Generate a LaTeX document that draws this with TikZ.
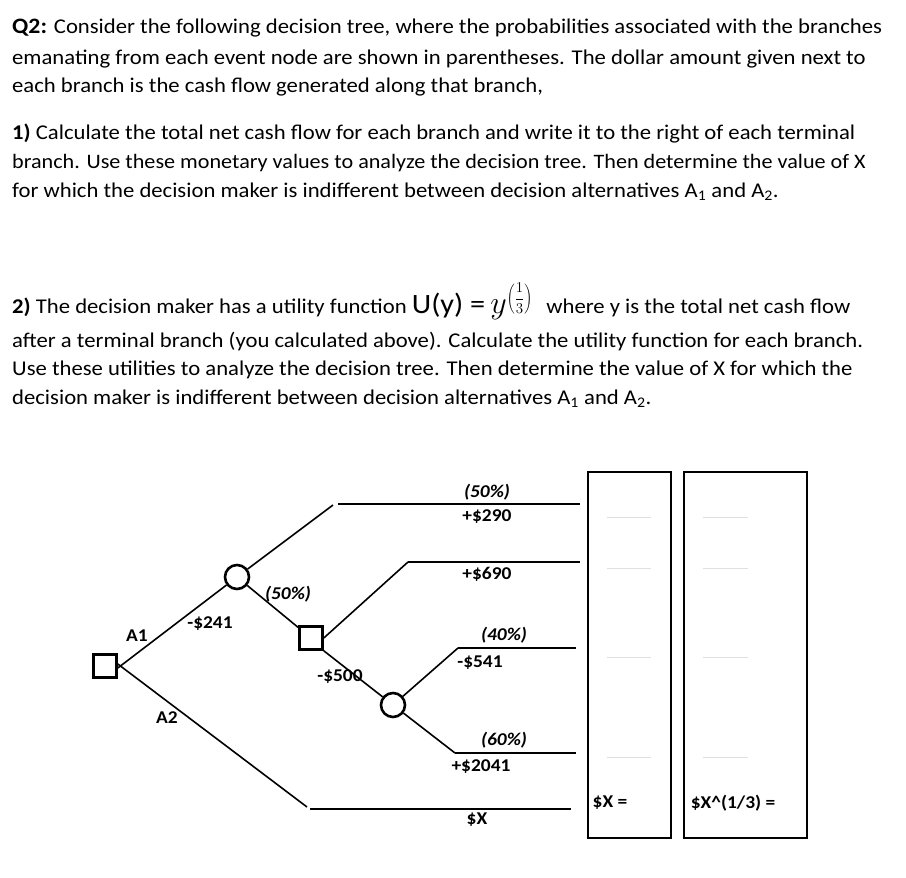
\documentclass[tikz,border=0pt]{standalone}
\usepackage{fix-cm}
\usepackage{fontspec}
\setmainfont[FakeStretch=1.08]{Carlito}
\begin{document}
\begin{tikzpicture}[x=1pt,y=-1pt,
  txt/.style={anchor=base west,inner sep=0pt,font=\fontsize{21}{24}\selectfont},
  lbl/.style={inner sep=0pt,font=\fontsize{18}{20}\selectfont\bfseries},
  plbl/.style={inner sep=0pt,font=\fontsize{18}{20}\selectfont\bfseries\itshape},
  dec/.style={draw,line width=2.6pt,minimum size=23pt,inner sep=0pt},
  evt/.style={draw,circle,line width=2.6pt,minimum size=24pt,inner sep=0pt},
  br/.style={line width=1.6pt},
  term/.style={line width=1.8pt},
  res/.style={draw,line width=1.3pt},
  faint/.style={line width=0.8pt,black!12}]
\useasboundingbox (0,0) rectangle (906,878);
% text
\node[txt] (t1) at (12,33) {{\fontsize{22}{26}\selectfont\bfseries Q2:} Consider the following decision tree, where the probabilities associated with the branches};
\node[txt] (t2) at (12,64) {emanating from each event node are shown in parentheses. The dollar amount given next to};
\node[txt] (t3) at (12,92) {each branch is the cash flow generated along that branch,};
\node[txt] (t4) at (12,139) {\textbf{1)} Calculate the total net cash flow for each branch and write it to the right of each terminal};
\node[txt,font=\fontsize{20.5}{24}\selectfont] (t5) at (12,168) {branch. Use these monetary values to analyze the decision tree. Then determine the value of X};
\node[txt] (t6) at (12,197) {for which the decision maker is indifferent between decision alternatives A\textsubscript{1} and A\textsubscript{2}.};
\node[txt] (t7) at (12,313) {\textbf{2)} The decision maker has a utility function {\fontsize{28}{30}\selectfont U(y) =} {\fontsize{32}{34}\selectfont\(y\)}\raisebox{10pt}{\fontsize{15}{17}\selectfont\(\displaystyle\left(\frac{1}{3}\right)\)}\hspace{14pt}where y is the total net cash flow};
\node[txt] (t8) at (12,347) {after a terminal branch (you calculated above). Calculate the utility function for each branch.};
\node[txt] (t9) at (12,375) {Use these utilities to analyze the decision tree. Then determine the value of X for which the};
\node[txt] (t10) at (12,404) {decision maker is indifferent between decision alternatives A\textsubscript{1} and A\textsubscript{2}.};
% tree nodes
\node[dec] (root) at (105,666) {};
\node[evt] (c1) at (237,577) {};
\node[dec] (d2) at (311,638) {};
\node[evt] (c2) at (393,705) {};
\coordinate (u1) at (333,505);
\coordinate (u1s) at (338,504);
\coordinate (u1e) at (580,504);
\coordinate (u2) at (408,562);
\coordinate (u2e) at (580,562);
\coordinate (u3) at (458,648);
\coordinate (u3e) at (576,648);
\coordinate (u4) at (455,753);
\coordinate (u4e) at (576,753);
\coordinate (u5) at (307,807);
\coordinate (u5s) at (310,809);
\coordinate (u5e) at (571,809);
\draw[br] ([yshift=-2pt]root.east) -- (c1);
\draw[br] ([yshift=2pt]root.east) -- (u5);
\draw[br] (c1) -- (u1);
\draw[term] (u1s) -- (u1e);
\draw[br] (c1) -- (d2);
\draw[br] (d2.east) -- (u2);
\draw[term] (u2) -- (u2e);
\draw[br] (d2.south east) -- (c2);
\draw[br] (c2) -- (u3);
\draw[term] (u3) -- (u3e);
\draw[br] (c2) -- (u4);
\draw[term] (u4) -- (u4e);
\draw[term] (u5s) -- (u5e);
% labels
\node[lbl] (la1) at (137,636) {A1};
\node[lbl] (la2) at (167,718) {A2};
\node[lbl] (l241) at (210,624) {-\$241};
\node[plbl] (p50a) at (288,594) {(50\%)};
\node[lbl] (l500) at (340,677) {-\$500};
\node[plbl] (p50b) at (487,492) {(50\%)};
\node[lbl] (l290) at (487,517) {+\$290};
\node[lbl] (l690) at (487,574) {+\$690};
\node[plbl] (p40) at (504,635) {(40\%)};
\node[lbl] (l541) at (480,663) {-\$541};
\node[plbl] (p60) at (504,740) {(60\%)};
\node[lbl] (l2041) at (481,767) {+\$2041};
\node[lbl] (lx) at (477,820) {\$X};
% result boxes
\node[res,minimum width=83pt,minimum height=366pt,inner sep=0pt] (b1) at (629.5,655) {};
\node[res,minimum width=123pt,minimum height=366pt,inner sep=0pt] (b2) at (745.5,655) {};
\foreach \yy in {517,568,657,757} {
  \draw[faint] (607,\yy) -- (651,\yy);
  \draw[faint] (703,\yy) -- (748,\yy);
}
\node[lbl] (bx1) at (610,803) {\$X =};
\node[lbl] (bx2) at (733,803) {\$X\^{}(1/3) =};
\end{tikzpicture}
\end{document}
